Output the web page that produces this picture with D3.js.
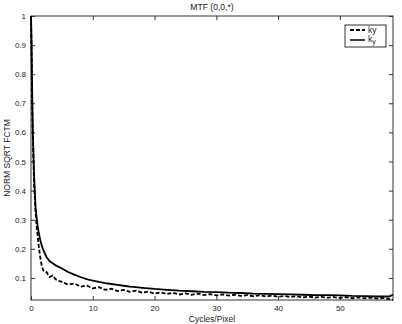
<!DOCTYPE html>
<html><head><meta charset="utf-8">
<script src="https://cdn.jsdelivr.net/npm/d3@7"></script>
<style>body{margin:0;background:#fff;} svg{display:block;font-family:"Liberation Sans",Arial,sans-serif;}</style>
</head><body>
<svg id="c" width="402" height="324"></svg>
<script>
const title = "MTF (0,0,*)";
const xLabel = "Cycles/Pixel";
const yLabel = "NORM SQRT FCTM";
const xTicks = [0, 10, 20, 30, 40, 50];
const yTicks = [0.1, 0.2, 0.3, 0.4, 0.5, 0.6, 0.7, 0.8, 0.9, 1];
const xDomain = [0, 58.6];
const yDomain = [0.024, 1];

// solid series (k_y)
const solidX = [0,0.1,0.2,0.3,0.5,0.75,1,1.25,1.5,1.75,2,2.5,3,3.5,4,5,6,7,8,9,10,11,12,13,14,15,16,17,18,19,20,22,24,26,28,30,32,34,36,38,40,42,44,46,48,50,52,54,56,58,58.6];
const solidY = [1.0,0.9,0.72,0.6,0.45,0.34,0.29,0.255,0.23,0.21,0.195,0.172,0.158,0.15,0.143,0.132,0.12,0.111,0.103,0.096,0.091,0.086,0.082,0.079,0.076,0.073,0.070,0.068,0.066,0.064,0.062,0.059,0.056,0.054,0.052,0.051,0.049,0.048,0.046,0.045,0.044,0.043,0.042,0.041,0.041,0.040,0.038,0.037,0.036,0.036,0.043];

// dashed series (ky)
const dashX = [0,0.1,0.2,0.3,0.5,0.75,1,1.25,1.5,1.75,2,2.5,3,3.5,4,4.5,5,6,7,8,9,10,11,12,13,14,15,16,17,18,19,20,21,22,23,24,25,26,27,28,29,30,31,32,33,34,35,36,37,38,39,40,41,42,43,44,45,46,47,48,49,50,51,52,53,54,55,56,57,58,58.6];
const dashY = [1.0,0.85,0.7,0.58,0.42,0.32,0.26,0.21,0.17,0.14,0.125,0.12,0.103,0.108,0.095,0.09,0.086,0.077,0.081,0.070,0.074,0.064,0.068,0.059,0.063,0.055,0.059,0.052,0.056,0.049,0.053,0.046,0.050,0.045,0.049,0.043,0.047,0.042,0.046,0.041,0.044,0.040,0.043,0.039,0.042,0.038,0.041,0.037,0.040,0.036,0.039,0.035,0.038,0.034,0.037,0.033,0.036,0.032,0.035,0.032,0.034,0.031,0.034,0.030,0.033,0.030,0.032,0.029,0.031,0.027,0.0245];

const legendLabels = ["ky", "k", "y"];

const svg = d3.select("#c");
const L = 31, R = 393, T = 16, B = 300;
const x = d3.scaleLinear().domain(xDomain).range([L, R]);
const y = d3.scaleLinear().domain(yDomain).range([B, T]);
const txt = "#222", ax = "#333";

// box
svg.append("rect").attr("x", L).attr("y", T).attr("width", R - L).attr("height", B - T)
  .attr("fill", "none").attr("stroke", ax).attr("stroke-width", 1);

// axes with inward ticks
const xa = svg.append("g").attr("transform", `translate(0,${B})`)
  .call(d3.axisBottom(x).tickValues(xTicks).tickSizeInner(-4).tickSizeOuter(0).tickPadding(5).tickFormat(d3.format("d")));
const xt = svg.append("g").attr("transform", `translate(0,${T})`)
  .call(d3.axisTop(x).tickValues(xTicks).tickSizeInner(-4).tickSizeOuter(0).tickFormat(""));
const ya = svg.append("g").attr("transform", `translate(${L},0)`)
  .call(d3.axisLeft(y).tickValues(yTicks).tickSizeInner(-4).tickSizeOuter(0).tickPadding(5).tickFormat(d => d === 1 ? "1" : d3.format(".1f")(d)));
const yr = svg.append("g").attr("transform", `translate(${R},0)`)
  .call(d3.axisRight(y).tickValues(yTicks).tickSizeInner(-4).tickSizeOuter(0).tickFormat(""));
[xa, xt, ya, yr].forEach(g => {
  g.select(".domain").remove();
  g.selectAll("line").attr("stroke", ax);
  g.selectAll("text").attr("fill", txt).style("font-size", "8px").style("font-family", "'Liberation Sans',Arial,sans-serif");
});

// lines
const line = d3.line().x(d => x(d[0])).y(d => y(d[1]));
const solid = solidX.map((v, i) => [v, solidY[i]]);
const dashed = dashX.map((v, i) => [v, dashY[i]]);
svg.append("path").datum(dashed).attr("d", line).attr("fill", "none").attr("stroke", "#000")
  .attr("stroke-width", 1.8).attr("stroke-dasharray", "4,2");
svg.append("path").datum(solid).attr("d", line).attr("fill", "none").attr("stroke", "#000")
  .attr("stroke-width", 1.8);

// titles
svg.append("text").attr("x", 212).attr("y", 10).attr("text-anchor", "middle").attr("fill", txt)
  .style("font-size", "8.6px").text(title);
svg.append("text").attr("x", 212).attr("y", 322).attr("text-anchor", "middle").attr("fill", txt)
  .style("font-size", "8.5px").text(xLabel);
svg.append("text").attr("transform", `translate(10,${(T + B) / 2}) rotate(-90)`).attr("text-anchor", "middle")
  .attr("fill", txt).style("font-size", "8.5px").text(yLabel);

// legend
const lg = svg.append("g");
lg.append("rect").attr("x", 345).attr("y", 25).attr("width", 41).attr("height", 22)
  .attr("fill", "#fff").attr("stroke", ax).attr("stroke-width", 1);
lg.append("line").attr("x1", 350).attr("x2", 365).attr("y1", 30).attr("y2", 30)
  .attr("stroke", "#000").attr("stroke-width", 1.8).attr("stroke-dasharray", "4,2");
lg.append("line").attr("x1", 350).attr("x2", 365).attr("y1", 40).attr("y2", 40)
  .attr("stroke", "#000").attr("stroke-width", 1.5);
lg.append("text").attr("x", 368).attr("y", 33).attr("fill", txt).style("font-size", "8.5px").text(legendLabels[0]);
const t2 = lg.append("text").attr("x", 368).attr("y", 42).attr("fill", txt).style("font-size", "8.5px");
t2.append("tspan").text(legendLabels[1]);
t2.append("tspan").attr("dy", 2).style("font-size", "7px").text(legendLabels[2]);
</script>
</body></html>
